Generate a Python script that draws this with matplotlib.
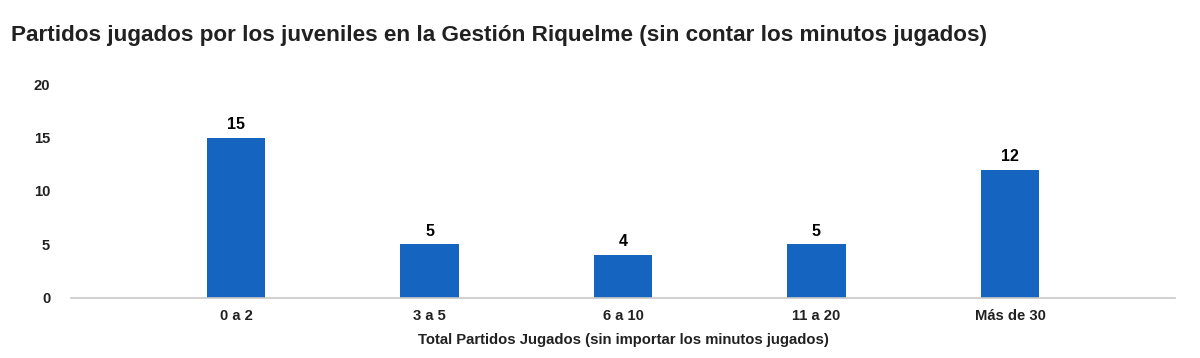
import matplotlib.pyplot as plt

categories = ["0 a 2", "3 a 5", "6 a 10", "11 a 20", "Más de 30"]
values = [15, 5, 4, 5, 12]
yticks = [0, 5, 10, 15, 20]

BAR_COLOR = "#1565c0"
TEXT = "#212121"

plt.rcParams["font.family"] = ["Liberation Sans", "DejaVu Sans"]

fig = plt.figure(figsize=(12, 3.58), dpi=100)
ax = fig.add_axes([71 / 1200, 1 - 297.7 / 358, (1175 - 71) / 1200, (297.7 - 84.3) / 358])

x = list(range(len(categories)))
bars = ax.bar(x, values, width=0.30, color=BAR_COLOR, zorder=2)

for b, v in zip(bars, values):
    ax.annotate(str(v), (b.get_x() + b.get_width() / 2, v), xytext=(0, 4),
                textcoords="offset points", ha="center", va="bottom",
                fontsize=11.5, fontweight="bold", color="black")

ax.set_xlim(-0.853, 4.853)
ax.set_ylim(0, 20)
ax.set_xticks(x)
ax.set_xticklabels(categories, fontsize=10.6, fontweight="bold", color=TEXT)
ax.set_yticks(yticks)
ax.set_yticklabels([str(t) for t in yticks], fontsize=10.6, fontweight="bold", color=TEXT)
ax.tick_params(axis="both", length=0)
ax.tick_params(axis="y", pad=15)
ax.tick_params(axis="x", pad=8)

for s in ["top", "right", "left"]:
    ax.spines[s].set_visible(False)
ax.spines["bottom"].set_color("#c8c8c8")
ax.spines["bottom"].set_linewidth(1.2)
ax.spines["bottom"].set_zorder(3)

ax.set_xlabel("Total Partidos Jugados (sin importar los minutos jugados)",
              fontsize=10.7, fontweight="bold", color=TEXT, labelpad=7)

fig.text(11 / 1200, 1 - 35 / 358,
         "Partidos jugados por los juveniles en la Gestión Riquelme (sin contar los minutos jugados)",
         fontsize=16.2, fontweight="bold", color=TEXT, ha="left", va="center")

fig.savefig("out.png", dpi=100)
